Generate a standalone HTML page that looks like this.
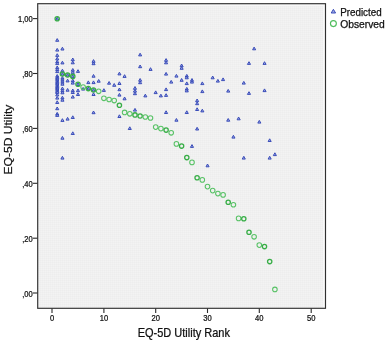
<!DOCTYPE html>
<html><head><meta charset="utf-8"><title>EQ-5D Utility</title>
<style>
html,body{margin:0;padding:0;background:#fff;}
body{width:387px;height:343px;overflow:hidden;font-family:"Liberation Sans",Arial,sans-serif;}
svg{display:block;filter:blur(0.35px);}
text{font-family:"Liberation Sans",Arial,sans-serif;fill:#111;}
.tk{font-size:8.4px;stroke:#111;stroke-width:0.25;}
.lb{stroke:#111;stroke-width:0.25;}
.t{fill:#9ea9e4;stroke:#3447b6;stroke-width:0.95;stroke-linejoin:round;}
.o{fill:none;stroke:#58c266;stroke-width:1.05;}
.ob{fill:none;stroke:#38ae47;stroke-width:1.3;}
</style></head><body>
<svg width="387" height="343" viewBox="0 0 387 343">
<defs>
<pattern id="dots" width="2" height="2" patternUnits="userSpaceOnUse"><rect width="2" height="2" fill="#f0f0f0"/><rect width="1" height="1" fill="#ededed"/><rect x="1" y="1" width="1" height="1" fill="#f3f3f3"/></pattern>
</defs>
<rect x="0" y="0" width="387" height="343" fill="#ffffff"/>
<rect x="37.7" y="3.7" width="287.8" height="304.6" fill="url(#dots)"/>
<rect x="38" y="4" width="287" height="2" fill="#f8f8f8"/>
<rect x="323" y="4" width="2.5" height="304" fill="#f8f8f8"/>
<rect x="37.7" y="3.7" width="287.8" height="304.6" fill="none" stroke="#303030" stroke-width="1.15"/>

<line x1="33" y1="18.6" x2="37.5" y2="18.6" stroke="#2a2a2a" stroke-width="1.1"/>
<text class="tk" transform="translate(32.7,22.2) scale(0.9,1)" text-anchor="end">1,00</text>
<line x1="33" y1="73.5" x2="37.5" y2="73.5" stroke="#2a2a2a" stroke-width="1.1"/>
<text class="tk" transform="translate(32.7,77.1) scale(0.9,1)" text-anchor="end">,80</text>
<line x1="33" y1="128.4" x2="37.5" y2="128.4" stroke="#2a2a2a" stroke-width="1.1"/>
<text class="tk" transform="translate(32.7,132.0) scale(0.9,1)" text-anchor="end">,60</text>
<line x1="33" y1="183.3" x2="37.5" y2="183.3" stroke="#2a2a2a" stroke-width="1.1"/>
<text class="tk" transform="translate(32.7,186.9) scale(0.9,1)" text-anchor="end">,40</text>
<line x1="33" y1="238.2" x2="37.5" y2="238.2" stroke="#2a2a2a" stroke-width="1.1"/>
<text class="tk" transform="translate(32.7,241.8) scale(0.9,1)" text-anchor="end">,20</text>
<line x1="33" y1="293.0" x2="37.5" y2="293.0" stroke="#2a2a2a" stroke-width="1.1"/>
<text class="tk" transform="translate(32.7,296.6) scale(0.9,1)" text-anchor="end">,00</text>
<line x1="52.0" y1="308.5" x2="52.0" y2="313" stroke="#2a2a2a" stroke-width="1.1"/>
<text class="tk" transform="translate(52.0,320.6) scale(0.9,1)" text-anchor="middle">0</text>
<line x1="103.9" y1="308.5" x2="103.9" y2="313" stroke="#2a2a2a" stroke-width="1.1"/>
<text class="tk" transform="translate(103.9,320.6) scale(0.9,1)" text-anchor="middle">10</text>
<line x1="155.7" y1="308.5" x2="155.7" y2="313" stroke="#2a2a2a" stroke-width="1.1"/>
<text class="tk" transform="translate(155.7,320.6) scale(0.9,1)" text-anchor="middle">20</text>
<line x1="207.5" y1="308.5" x2="207.5" y2="313" stroke="#2a2a2a" stroke-width="1.1"/>
<text class="tk" transform="translate(207.5,320.6) scale(0.9,1)" text-anchor="middle">30</text>
<line x1="259.3" y1="308.5" x2="259.3" y2="313" stroke="#2a2a2a" stroke-width="1.1"/>
<text class="tk" transform="translate(259.3,320.6) scale(0.9,1)" text-anchor="middle">40</text>
<line x1="311.2" y1="308.5" x2="311.2" y2="313" stroke="#2a2a2a" stroke-width="1.1"/>
<text class="tk" transform="translate(311.2,320.6) scale(0.9,1)" text-anchor="middle">50</text>
<text class="lb" transform="translate(183.8,337.4) scale(0.917,1)" text-anchor="middle" font-size="12">EQ-5D Utility Rank</text>
<text class="lb" transform="translate(12.1,139.6) rotate(-90) scale(1,0.917)" text-anchor="middle" font-size="12.1">EQ-5D Utility</text>
<path class="t" d="M57.2 38.6L58.8 41.3L55.7 41.3Z"/>
<path class="t" d="M57.2 48.4L58.8 51.1L55.7 51.1Z"/>
<path class="t" d="M57.2 53.7L58.8 56.4L55.7 56.4Z"/>
<path class="t" d="M57.2 57.2L58.8 59.9L55.7 59.9Z"/>
<path class="t" d="M57.2 60.2L58.8 62.9L55.7 62.9Z"/>
<path class="t" d="M57.2 61.9L58.8 64.6L55.7 64.6Z"/>
<path class="t" d="M57.2 66.0L58.8 68.7L55.7 68.7Z"/>
<path class="t" d="M57.2 67.8L58.8 70.5L55.7 70.5Z"/>
<path class="t" d="M57.2 69.9L58.8 72.6L55.7 72.6Z"/>
<path class="t" d="M57.2 74.5L58.8 77.2L55.7 77.2Z"/>
<path class="t" d="M57.2 75.8L58.8 78.5L55.7 78.5Z"/>
<path class="t" d="M57.2 77.0L58.8 79.8L55.7 79.8Z"/>
<path class="t" d="M57.2 78.4L58.8 81.1L55.7 81.1Z"/>
<path class="t" d="M57.2 79.7L58.8 82.4L55.7 82.4Z"/>
<path class="t" d="M57.2 81.0L58.8 83.7L55.7 83.7Z"/>
<path class="t" d="M57.2 82.2L58.8 85.0L55.7 85.0Z"/>
<path class="t" d="M57.2 83.5L58.8 86.3L55.7 86.3Z"/>
<path class="t" d="M57.2 84.9L58.8 87.6L55.7 87.6Z"/>
<path class="t" d="M57.2 86.0L58.8 88.8L55.7 88.8Z"/>
<path class="t" d="M57.2 87.2L58.8 90.0L55.7 90.0Z"/>
<path class="t" d="M57.2 88.5L58.8 91.2L55.7 91.2Z"/>
<path class="t" d="M57.2 89.8L58.8 92.5L55.7 92.5Z"/>
<path class="t" d="M57.2 90.9L58.8 93.6L55.7 93.6Z"/>
<path class="t" d="M57.2 93.2L58.8 95.9L55.7 95.9Z"/>
<path class="t" d="M57.2 96.4L58.8 99.1L55.7 99.1Z"/>
<path class="t" d="M57.2 100.8L58.8 103.5L55.7 103.5Z"/>
<path class="t" d="M57.2 107.0L58.8 109.7L55.7 109.7Z"/>
<path class="t" d="M57.2 112.4L58.8 115.1L55.7 115.1Z"/>
<path class="t" d="M57.2 113.7L58.8 116.4L55.7 116.4Z"/>
<path class="t" d="M57.2 17.2L58.8 20.0L55.7 20.0Z"/>
<path class="t" d="M62.4 47.2L64.0 50.0L60.9 50.0Z"/>
<path class="t" d="M62.4 61.2L64.0 63.9L60.9 63.9Z"/>
<path class="t" d="M62.4 69.2L64.0 71.9L60.9 71.9Z"/>
<path class="t" d="M62.4 72.5L64.0 75.2L60.9 75.2Z"/>
<path class="t" d="M62.4 76.5L64.0 79.2L60.9 79.2Z"/>
<path class="t" d="M62.4 78.5L64.0 81.2L60.9 81.2Z"/>
<path class="t" d="M62.4 80.5L64.0 83.2L60.9 83.2Z"/>
<path class="t" d="M62.4 82.5L64.0 85.2L60.9 85.2Z"/>
<path class="t" d="M62.4 87.0L64.0 89.8L60.9 89.8Z"/>
<path class="t" d="M62.4 89.2L64.0 91.9L60.9 91.9Z"/>
<path class="t" d="M62.4 91.0L64.0 93.8L60.9 93.8Z"/>
<path class="t" d="M62.4 96.2L64.0 99.0L60.9 99.0Z"/>
<path class="t" d="M62.4 98.5L64.0 101.2L60.9 101.2Z"/>
<path class="t" d="M62.4 118.7L64.0 121.4L60.9 121.4Z"/>
<path class="t" d="M62.4 136.4L64.0 139.2L60.9 139.2Z"/>
<path class="t" d="M62.4 156.3L64.0 159.1L60.9 159.1Z"/>
<path class="t" d="M67.6 73.5L69.1 76.2L66.0 76.2Z"/>
<path class="t" d="M67.6 79.2L69.1 81.9L66.0 81.9Z"/>
<path class="t" d="M67.6 88.5L69.1 91.2L66.0 91.2Z"/>
<path class="t" d="M67.6 117.4L69.1 120.1L66.0 120.1Z"/>
<path class="t" d="M72.8 58.0L74.3 60.7L71.2 60.7Z"/>
<path class="t" d="M72.8 61.1L74.3 63.8L71.2 63.8Z"/>
<path class="t" d="M72.8 68.5L74.3 71.2L71.2 71.2Z"/>
<path class="t" d="M72.8 70.7L74.3 73.4L71.2 73.4Z"/>
<path class="t" d="M72.8 74.9L74.3 77.6L71.2 77.6Z"/>
<path class="t" d="M72.8 79.2L74.3 81.9L71.2 81.9Z"/>
<path class="t" d="M72.8 81.4L74.3 84.1L71.2 84.1Z"/>
<path class="t" d="M72.8 89.0L74.3 91.7L71.2 91.7Z"/>
<path class="t" d="M72.8 90.8L74.3 93.5L71.2 93.5Z"/>
<path class="t" d="M72.8 95.4L74.3 98.1L71.2 98.1Z"/>
<path class="t" d="M72.8 115.8L74.3 118.5L71.2 118.5Z"/>
<path class="t" d="M72.8 131.8L74.3 134.5L71.2 134.5Z"/>
<path class="t" d="M78.0 69.7L79.5 72.4L76.4 72.4Z"/>
<path class="t" d="M78.0 82.8L79.5 85.5L76.4 85.5Z"/>
<path class="t" d="M78.0 89.0L79.5 91.7L76.4 91.7Z"/>
<path class="t" d="M78.0 92.8L79.5 95.5L76.4 95.5Z"/>
<path class="t" d="M83.1 87.4L84.7 90.1L81.6 90.1Z"/>
<path class="t" d="M88.3 80.9L89.9 83.6L86.8 83.6Z"/>
<path class="t" d="M88.3 87.0L89.9 89.8L86.8 89.8Z"/>
<path class="t" d="M93.5 59.6L95.1 62.3L92.0 62.3Z"/>
<path class="t" d="M93.5 62.0L95.1 64.7L92.0 64.7Z"/>
<path class="t" d="M93.5 74.5L95.1 77.2L92.0 77.2Z"/>
<path class="t" d="M93.5 80.9L95.1 83.6L92.0 83.6Z"/>
<path class="t" d="M93.5 88.5L95.1 91.2L92.0 91.2Z"/>
<path class="t" d="M93.5 92.8L95.1 95.5L92.0 95.5Z"/>
<path class="t" d="M93.5 111.0L95.1 113.7L92.0 113.7Z"/>
<path class="t" d="M98.7 79.5L100.2 82.2L97.1 82.2Z"/>
<path class="t" d="M103.9 88.7L105.4 91.4L102.3 91.4Z"/>
<path class="t" d="M109.1 81.5L110.6 84.2L107.5 84.2Z"/>
<path class="t" d="M114.2 83.5L115.8 86.3L112.7 86.3Z"/>
<path class="t" d="M119.4 72.2L121.0 74.9L117.9 74.9Z"/>
<path class="t" d="M119.4 81.8L121.0 84.5L117.9 84.5Z"/>
<path class="t" d="M119.4 88.0L121.0 90.7L117.9 90.7Z"/>
<path class="t" d="M119.4 93.4L121.0 96.1L117.9 96.1Z"/>
<path class="t" d="M119.4 114.8L121.0 117.5L117.9 117.5Z"/>
<path class="t" d="M124.6 74.7L126.1 77.4L123.0 77.4Z"/>
<path class="t" d="M124.6 97.0L126.1 99.8L123.0 99.8Z"/>
<path class="t" d="M129.8 126.8L131.3 129.5L128.2 129.5Z"/>
<path class="t" d="M135.0 86.5L136.5 89.3L133.4 89.3Z"/>
<path class="t" d="M135.0 89.4L136.5 92.1L133.4 92.1Z"/>
<path class="t" d="M135.0 92.0L136.5 94.7L133.4 94.7Z"/>
<path class="t" d="M135.0 108.4L136.5 111.1L133.4 111.1Z"/>
<path class="t" d="M140.1 53.2L141.7 55.9L138.6 55.9Z"/>
<path class="t" d="M140.1 65.0L141.7 67.7L138.6 67.7Z"/>
<path class="t" d="M140.1 78.5L141.7 81.2L138.6 81.2Z"/>
<path class="t" d="M140.1 81.0L141.7 83.7L138.6 83.7Z"/>
<path class="t" d="M145.3 94.2L146.9 96.9L143.8 96.9Z"/>
<path class="t" d="M150.5 67.7L152.1 70.4L149.0 70.4Z"/>
<path class="t" d="M155.7 90.9L157.2 93.6L154.1 93.6Z"/>
<path class="t" d="M160.9 94.2L162.4 96.9L159.3 96.9Z"/>
<path class="t" d="M166.1 58.6L167.6 61.3L164.5 61.3Z"/>
<path class="t" d="M166.1 61.1L167.6 63.8L164.5 63.8Z"/>
<path class="t" d="M166.1 72.4L167.6 75.1L164.5 75.1Z"/>
<path class="t" d="M166.1 87.9L167.6 90.6L164.5 90.6Z"/>
<path class="t" d="M166.1 93.7L167.6 96.4L164.5 96.4Z"/>
<path class="t" d="M166.1 110.8L167.6 113.5L164.5 113.5Z"/>
<path class="t" d="M171.2 80.4L172.8 83.1L169.7 83.1Z"/>
<path class="t" d="M176.4 74.4L178.0 77.1L174.9 77.1Z"/>
<path class="t" d="M176.4 118.5L178.0 121.2L174.9 121.2Z"/>
<path class="t" d="M181.6 64.0L183.2 66.8L180.1 66.8Z"/>
<path class="t" d="M181.6 66.5L183.2 69.3L180.1 69.3Z"/>
<path class="t" d="M181.6 78.5L183.2 81.3L180.1 81.3Z"/>
<path class="t" d="M186.8 74.4L188.3 77.1L185.2 77.1Z"/>
<path class="t" d="M186.8 76.0L188.3 78.8L185.2 78.8Z"/>
<path class="t" d="M186.8 81.9L188.3 84.6L185.2 84.6Z"/>
<path class="t" d="M186.8 87.4L188.3 90.1L185.2 90.1Z"/>
<path class="t" d="M186.8 89.2L188.3 91.9L185.2 91.9Z"/>
<path class="t" d="M186.8 110.8L188.3 113.5L185.2 113.5Z"/>
<path class="t" d="M192.0 78.5L193.5 81.3L190.4 81.3Z"/>
<path class="t" d="M192.0 80.4L193.5 83.1L190.4 83.1Z"/>
<path class="t" d="M192.0 144.6L193.5 147.4L190.4 147.4Z"/>
<path class="t" d="M197.1 99.0L198.7 101.7L195.6 101.7Z"/>
<path class="t" d="M197.1 102.0L198.7 104.7L195.6 104.7Z"/>
<path class="t" d="M197.1 107.8L198.7 110.5L195.6 110.5Z"/>
<path class="t" d="M197.1 127.3L198.7 130.0L195.6 130.0Z"/>
<path class="t" d="M202.3 81.9L203.9 84.6L200.8 84.6Z"/>
<path class="t" d="M202.3 89.9L203.9 92.6L200.8 92.6Z"/>
<path class="t" d="M202.3 109.2L203.9 111.9L200.8 111.9Z"/>
<path class="t" d="M207.5 164.0L209.1 166.8L206.0 166.8Z"/>
<path class="t" d="M212.7 76.0L214.2 78.8L211.1 78.8Z"/>
<path class="t" d="M217.9 79.4L219.4 82.1L216.3 82.1Z"/>
<path class="t" d="M223.1 77.9L224.6 80.6L221.5 80.6Z"/>
<path class="t" d="M228.2 89.4L229.8 92.1L226.7 92.1Z"/>
<path class="t" d="M228.2 118.5L229.8 121.2L226.7 121.2Z"/>
<path class="t" d="M233.4 135.3L235.0 138.1L231.9 138.1Z"/>
<path class="t" d="M238.6 117.0L240.2 119.8L237.1 119.8Z"/>
<path class="t" d="M243.8 81.4L245.3 84.1L242.2 84.1Z"/>
<path class="t" d="M243.8 156.3L245.3 159.1L242.2 159.1Z"/>
<path class="t" d="M249.0 61.7L250.5 64.4L247.4 64.4Z"/>
<path class="t" d="M249.0 91.7L250.5 94.4L247.4 94.4Z"/>
<path class="t" d="M254.1 47.1L255.7 49.8L252.6 49.8Z"/>
<path class="t" d="M259.3 120.4L260.9 123.1L257.8 123.1Z"/>
<path class="t" d="M264.5 61.7L266.1 64.4L263.0 64.4Z"/>
<path class="t" d="M264.5 88.9L266.1 91.6L263.0 91.6Z"/>
<path class="t" d="M269.7 138.8L271.2 141.5L268.1 141.5Z"/>
<path class="t" d="M269.7 156.3L271.2 159.1L268.1 159.1Z"/>
<path class="t" d="M274.9 152.8L276.4 155.6L273.3 155.6Z"/>
<circle class="ob" cx="57.2" cy="18.8" r="2.15"/>
<circle class="ob" cx="62.4" cy="74.0" r="2.15"/>
<circle class="ob" cx="67.6" cy="75.0" r="2.15"/>
<circle class="ob" cx="72.8" cy="76.4" r="2.15"/>
<circle class="ob" cx="78.0" cy="84.3" r="2.15"/>
<circle class="o" cx="83.1" cy="87.1" r="2.3"/>
<circle class="ob" cx="88.3" cy="88.6" r="2.15"/>
<circle class="ob" cx="93.5" cy="90.0" r="2.15"/>
<circle class="o" cx="98.7" cy="91.3" r="2.3"/>
<circle class="o" cx="103.9" cy="98.3" r="2.3"/>
<circle class="o" cx="109.1" cy="99.5" r="2.3"/>
<circle class="o" cx="114.2" cy="100.6" r="2.3"/>
<circle class="ob" cx="119.4" cy="105.3" r="2.15"/>
<circle class="o" cx="124.6" cy="112.4" r="2.3"/>
<circle class="o" cx="129.8" cy="113.8" r="2.3"/>
<circle class="ob" cx="135.0" cy="114.9" r="2.15"/>
<circle class="ob" cx="140.1" cy="116.0" r="2.15"/>
<circle class="o" cx="145.3" cy="117.0" r="2.3"/>
<circle class="o" cx="150.5" cy="118.0" r="2.3"/>
<circle class="o" cx="155.7" cy="127.1" r="2.3"/>
<circle class="o" cx="160.9" cy="128.6" r="2.3"/>
<circle class="ob" cx="166.1" cy="130.1" r="2.15"/>
<circle class="o" cx="171.2" cy="132.8" r="2.3"/>
<circle class="o" cx="176.4" cy="143.9" r="2.3"/>
<circle class="ob" cx="181.6" cy="146.1" r="2.15"/>
<circle class="ob" cx="186.8" cy="157.6" r="2.15"/>
<circle class="o" cx="192.0" cy="162.4" r="2.3"/>
<circle class="ob" cx="197.1" cy="177.8" r="2.15"/>
<circle class="o" cx="202.3" cy="179.9" r="2.3"/>
<circle class="o" cx="207.5" cy="186.6" r="2.3"/>
<circle class="o" cx="212.7" cy="190.6" r="2.3"/>
<circle class="o" cx="217.9" cy="193.6" r="2.3"/>
<circle class="o" cx="223.1" cy="194.9" r="2.3"/>
<circle class="ob" cx="228.2" cy="202.2" r="2.15"/>
<circle class="o" cx="233.4" cy="204.7" r="2.3"/>
<circle class="o" cx="238.6" cy="218.4" r="2.3"/>
<circle class="ob" cx="243.8" cy="218.7" r="2.15"/>
<circle class="ob" cx="249.0" cy="232.3" r="2.15"/>
<circle class="o" cx="254.1" cy="236.8" r="2.3"/>
<circle class="o" cx="259.3" cy="245.1" r="2.3"/>
<circle class="ob" cx="264.5" cy="246.6" r="2.15"/>
<circle class="ob" cx="269.7" cy="261.6" r="2.15"/>
<circle class="o" cx="274.9" cy="289.4" r="2.3"/>
<path class="t" d="M333.4 9.3L335.6 13L331.2 13Z"/>
<circle class="o" cx="333.4" cy="23.6" r="2.95" style="stroke:#4fbd5d;stroke-width:1.15"/>
<text class="lb" x="340.2" y="16.3" font-size="10" textLength="41.4" lengthAdjust="spacingAndGlyphs">Predicted</text>
<text class="lb" x="340.2" y="28.1" font-size="10" textLength="44.6" lengthAdjust="spacingAndGlyphs">Observed</text>
</svg></body></html>
